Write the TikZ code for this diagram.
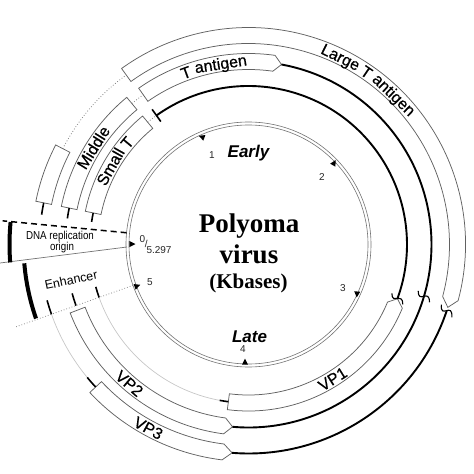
\documentclass[tikz,border=0pt]{standalone}
\usepackage{fontspec}
\setmainfont{Liberation Sans}
\newfontfamily\serifbold{Liberation Serif}
\newfontfamily\narrowsans[FakeStretch=0.85]{Liberation Sans}
\newfontfamily\lblfam[FakeBold=0.6]{Liberation Sans}
\newcommand{\gbox}[3]{\draw[boxline] ({#2}:{#1-8}) arc[start angle={#2}, end angle={#3}, radius={#1-8}] -- ({#3}:{#1+8}) arc[start angle={#3}, end angle={#2}, radius={#1+8}] -- cycle;}
\newcommand{\pbox}[4]{\draw[boxline] ({#2}:{#1-8}) arc[start angle={#2}, end angle={#3}, radius={#1-8}] -- ({#4}:{#1}) -- ({#3}:{#1+8}) arc[start angle={#3}, end angle={#2}, radius={#1+8}] -- cycle;}
\newcommand{\squig}[2]{\draw[line width=1.1pt] ({#1+1.2}:{#2-7}) .. controls ({#1-3}:{#2-3}) and ({#1+3}:{#2+3}) .. ({#1-1.2}:{#2+7});}
\newcommand{\tarc}[4]{\draw[#4] ({#2}:{#1}) arc[start angle={#2}, end angle={#3}, radius={#1}];}
\newcommand{\tri}[4]{\fill[shift={(#1,#2)}, rotate=#3] (3.5,0) -- (-2.5,3) -- (-2.5,-3) -- cycle; \coordinate (#4) at (#1,#2);}
% early word: name, angle, baseline radius, text
\newcommand{\ew}[4]{\node[wordlbl, rotate={#2-90}] (#1) at ({#2}:{#3}) {#4};}
% late word
\newcommand{\lw}[4]{\node[wordlbl, rotate={#2+90}] (#1) at ({#2}:{#3}) {#4};}
\begin{document}
\begin{tikzpicture}[x=1pt,y=1pt,
  boxline/.style={draw=black!62, line width=0.75pt},
  thk/.style={line width=1.9pt},
  tickline/.style={line width=1.6pt},
  faint/.style={draw=black!22, line width=0.7pt},
  dots/.style={draw=black!50, line width=0.8pt, dotted},
  num/.style={font=\fontsize{10}{10}\selectfont, text=black!85, inner sep=0pt},
  wordlbl/.style={font=\lblfam\fontsize{16}{16}\selectfont, anchor=base, inner sep=0pt}
]
\useasboundingbox (-248.5,-229.5) rectangle (225.5,244.5);
\def\ra{158.5}\def\rb{183}\def\rc{209}
% inner double circle
\draw[black!55, line width=0.6pt] (0,0) circle[radius=122.5];
\draw[black!55, line width=0.6pt] (0,0) circle[radius=119.5];
% radial lines at origin / enhancer
\draw[line width=1.5pt, dash pattern=on 6pt off 4pt] (174.5:122.5) -- (174.5:247);
\draw[black!55, line width=0.7pt] (-121.5,-2.5) -- (-248.5,-18.5);
\draw[black!45, line width=0.8pt, dotted] (199.5:122.5) -- (199.5:247);
\tarc{239}{174.6}{184.3}{line width=4pt}
\tarc{225}{184.8}{199.2}{line width=4pt}
% early region
\gbox{\ra}{168.5}{129.5}
\gbox{\rb}{168.5}{129.6}
\gbox{\rc}{168.5}{152.7}
\tarc{\rc}{152.7}{125.8}{dots}
\tarc{\rb}{129.6}{125.1}{dots}
\tarc{\ra}{129.5}{125.5}{dots}
\pbox{\rc}{125.8}{-15}{-17.5}
\pbox{\rb}{125.1}{82}{79.6}
\draw[tickline] (125.5:151) -- (125.5:166);
\tarc{\ra}{125.5}{-20}{thk}
\tarc{\rb}{79.6}{-16.5}{thk}
\foreach \r in {\ra,\rb,\rc}{\tarc{\r}{168.5}{171.8}{tickline}}
% late region
\pbox{\ra}{262.7}{337.5}{340}
\pbox{\rb}{201}{262.5}{265}
\pbox{\rc}{223}{263}{265.5}
\tarc{\rb}{265}{343.5}{thk}
\tarc{\rc}{265.5}{341.5}{thk}
\tarc{\ra}{199.5}{259.5}{faint}
\tarc{\rc}{199.5}{219.5}{faint}
\foreach \r in {\ra,\rb,\rc}{\tarc{\r}{195.5}{199.5}{tickline}}
\tarc{\ra}{259.5}{262.7}{tickline}
\tarc{\rc}{219.5}{223}{tickline}
% polyA squiggles
\squig{-20}{\ra}
\squig{-16.5}{\rb}
\squig{-18.5}{\rc}
% labels along the rings (word by word)
\ew{wsmall}{150.6}{152.8}{Small}
\ew{wsmallt}{140.0}{152.8}{T}
\ew{wmiddle}{148}{177.3}{Middle}
\ew{wtt}{110.0}{177.3}{T}
\ew{wtant}{98.75}{177.3}{antigen}
\ew{wlarge}{63.8}{203.3}{Large}
\ew{wlt}{55.6}{203.3}{T}
\ew{wlant}{45.8}{203.3}{antigen}
\lw{wvp1}{302}{164.2}{VP1}
\lw{wvp2}{229.4}{188.7}{VP2}
\lw{wvp3}{241.4}{214.7}{VP3}
% map triangles
\tri{-116.5}{0.5}{0}{m0}
\tri{-111.5}{-41.5}{20}{m5}
\tri{-3.5}{-117.5}{90}{m4}
\tri{108.5}{-49.5}{-95}{m3}
\tri{85.5}{81.5}{60}{m2}
\tri{-46.5}{107.5}{160}{m1}
% numbers
\node[num] (n1) at (-36.5,89.5) {1};
\node[num] (n2) at (73.5,67.5) {2};
\node[num] (n3) at (94.5,-43.5) {3};
\node[num] (n4) at (-5.5,-104.5) {4};
\node[num] (n5) at (-98.5,-37.5) {5};
\node[num, anchor=west] (n0) at (-109,0) {\raisebox{5pt}{0}\hspace{-0.5pt}/\hspace{-1pt}\raisebox{-6.5pt}{5.297}};
% center titles
\node[font=\serifbold\bfseries\fontsize{27}{27}\selectfont, anchor=base, inner sep=0pt] (tpoly) at (0.5,12.5) {Polyoma};
\node[font=\serifbold\bfseries\fontsize{27}{27}\selectfont, anchor=base, inner sep=0pt] (tvirus) at (0.5,-18.5) {virus};
\node[font=\serifbold\bfseries\fontsize{21}{21}\selectfont, anchor=base, inner sep=0pt] (tkb) at (0,-43.5) {(Kbases)};
\node[font=\bfseries\itshape\fontsize{17}{17}\selectfont, anchor=base, inner sep=0pt] (tearly) at (0,87.5) {Early};
\node[font=\bfseries\itshape\fontsize{17}{17}\selectfont, anchor=base, inner sep=0pt] (tlate) at (1,-97.5) {Late};
% side labels
\node[font=\narrowsans\fontsize{11.5}{11.5}\selectfont, inner sep=0pt] (tdna) at (-188.5,7.5) {DNA replication};
\node[font=\narrowsans\fontsize{11.5}{11.5}\selectfont, inner sep=0pt] (torig) at (-186.5,-3.5) {origin};
\node[font=\fontsize{12.5}{12.5}\selectfont, inner sep=0pt, rotate=12] (tenh) at (-177.5,-35.5) {Enhancer};
\end{tikzpicture}
\end{document}
